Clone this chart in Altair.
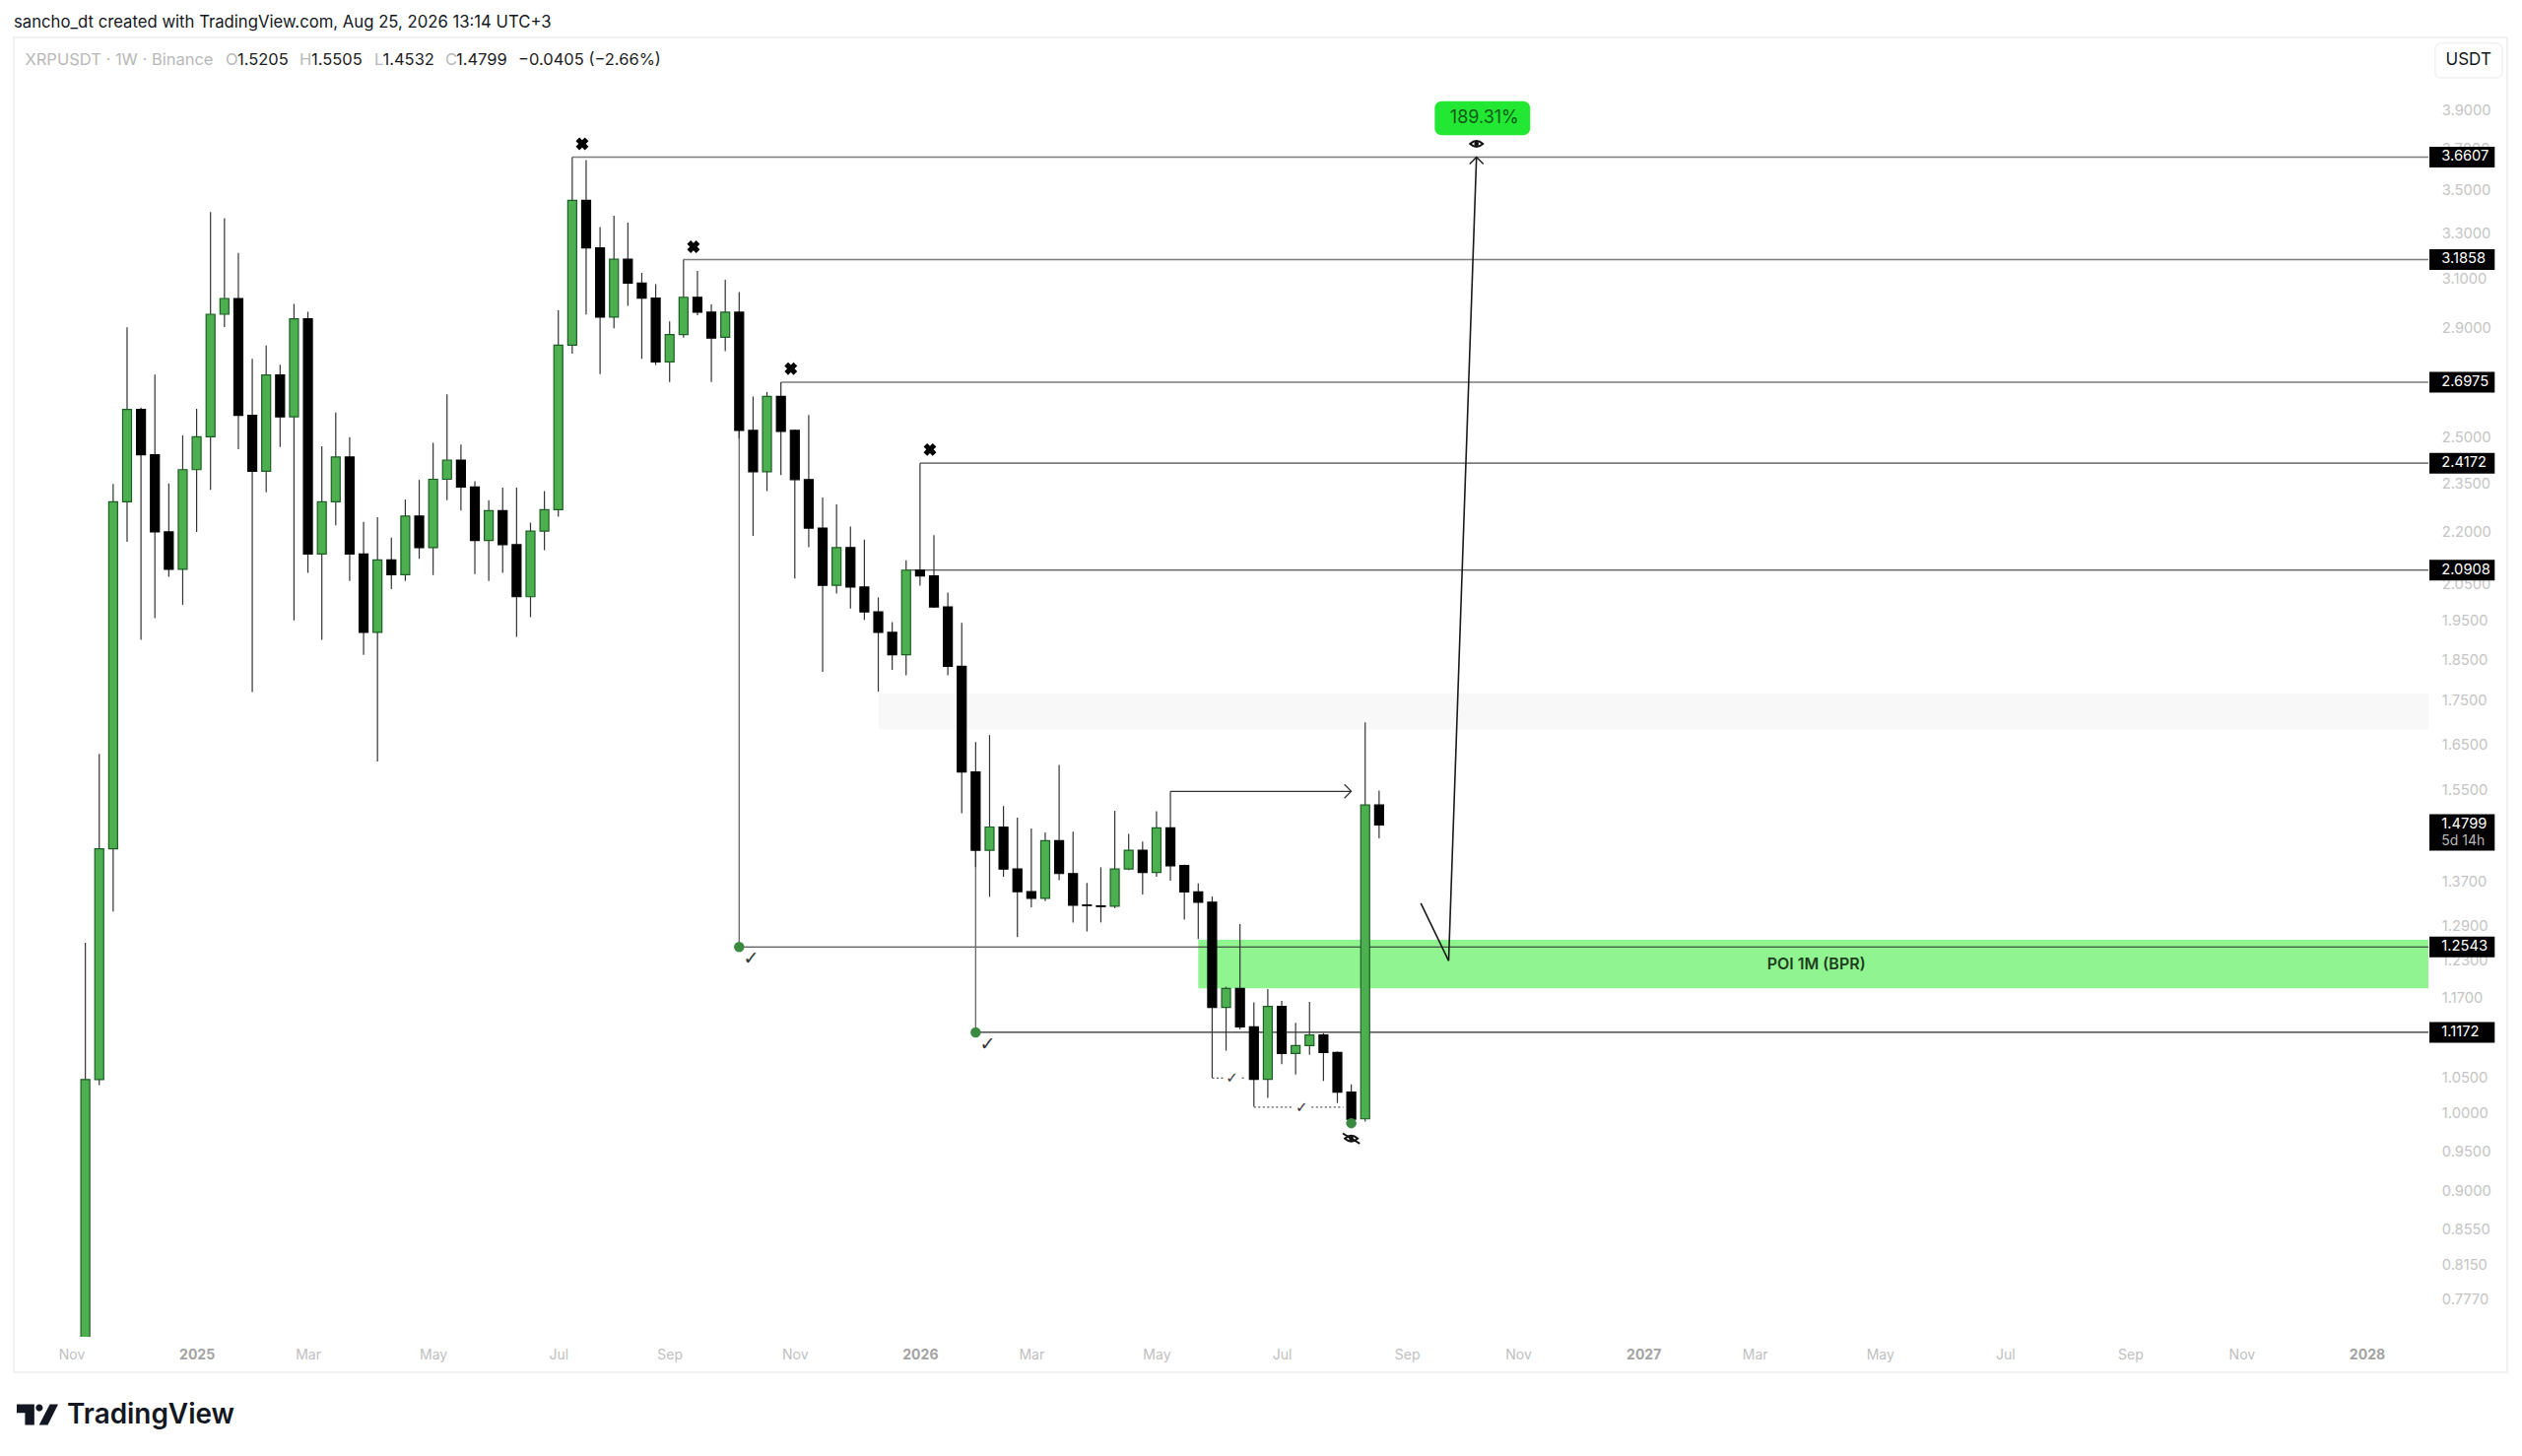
import altair as alt
import pandas as pd

# ---------- candle data (weekly XRPUSDT) ----------
first_week = "2024-11-11"
opens = [
 0.56,1.048,1.433,2.294,2.600,2.445,2.202,2.093,2.396,2.505,
 2.958,3.022,2.579,2.391,2.724,2.574,2.940,2.137,2.294,2.4376,
 2.137,1.9215,2.120,2.078,2.25,2.1555,2.365,2.4274,2.340,2.1764,
 2.2667,2.1642,2.0168,2.2043,2.2692,2.8368,3.4518,3.2365,2.9464,3.187,
 3.0858,3.0238,2.7727,2.8776,3.027,2.9662,2.867,2.9662,2.5268,2.3893,
 2.6461,2.5268,2.3641,2.2136,2.0482,2.1558,2.0434,1.9759,1.9215,1.8641,
 2.0908,2.0743,1.9891,1.8352,1.5904,1.4301,1.4759,1.394,1.3521,1.3399,
 1.4486,1.3856,1.3277,1.3262,1.3256,1.394,1.4301,1.3875,1.4743,1.4007,
 1.3514,1.3328,1.1557,1.1858,1.1254,1.0482,1.1572,1.0857,1.0974,1.1131,
 1.0871,1.0301,0.9935,1.5205]
highs = [
 1.2615,1.630,2.350,2.906,2.606,2.726,2.352,2.510,2.602,3.398,
 3.370,3.215,2.785,2.835,2.7625,3.000,2.968,2.4735,2.589,2.5037,
 2.232,2.2466,2.185,2.301,2.363,2.4847,2.654,2.4794,2.359,2.2987,
 2.338,2.338,2.2298,2.3275,2.9744,3.6607,3.6459,3.329,3.3809,3.349,
 3.1287,3.0816,2.9296,3.1858,3.137,2.9978,3.0994,3.0485,2.6461,2.6624,
 2.6975,2.53,2.5808,2.3074,2.2860,2.2179,2.1790,2.0149,1.9487,2.1191,
 2.4172,2.1925,2.0284,1.9464,1.6563,1.6718,1.5183,1.4949,1.4731,1.4649,
 1.6056,1.4663,1.3681,1.3974,1.5087,1.462,1.4472,1.5075,1.549,1.4025,
 1.3674,1.3432,1.1884,1.2939,1.1637,1.1847,1.1658,1.1317,1.1642,1.1161,
 1.0885,1.0412,1.7008,1.5505]
lows = [
 0.53,1.040,1.316,2.173,1.902,1.959,2.072,1.995,2.202,2.331,
 2.907,2.4635,1.772,2.3235,2.471,1.953,2.083,1.902,2.222,2.0605,
 1.864,1.613,2.038,2.0605,2.1233,2.077,2.2987,2.2667,2.08,2.0605,
 2.083,1.9096,1.9617,2.148,2.2478,2.8046,2.9576,2.7278,2.902,2.9914,
 2.7845,2.7613,2.6988,2.8656,2.9546,2.6988,2.8133,2.50,2.1902,2.3275,
 2.3782,2.0672,2.1567,1.8217,2.0254,1.9848,1.9545,1.7733,1.8264,1.8128,
 2.0472,1.987,1.8128,1.5037,1.3975,1.3426,1.3796,1.271,1.3236,1.3348,
 1.3732,1.2967,1.2812,1.2967,1.322,1.392,1.3467,1.3796,1.3723,1.3016,
 1.2678,1.0506,1.0897,1.1214,1.0101,1.0223,1.0700,1.0551,1.0837,1.0460,
 1.0150,0.9877,0.9900,1.4532]
closes = [
 1.048,1.433,2.294,2.600,2.445,2.202,2.093,2.396,2.505,2.958,
 3.022,2.579,2.391,2.724,2.574,2.940,2.137,2.294,2.4376,2.137,
 1.9215,2.120,2.078,2.25,2.1555,2.365,2.4274,2.340,2.1764,2.2667,
 2.1642,2.0168,2.2043,2.2692,2.8368,3.4518,3.2365,2.9464,3.187,3.0858,
 3.0238,2.7727,2.8776,3.027,2.9662,2.864,2.9662,2.5268,2.3893,2.6461,
 2.5236,2.3641,2.2136,2.0482,2.1558,2.0434,1.9759,1.9215,1.8641,2.0908,
 2.0743,1.9891,1.8352,1.5904,1.4301,1.4759,1.394,1.3521,1.3399,1.4486,
 1.3856,1.3273,1.3268,1.325,1.394,1.4301,1.3875,1.4743,1.4003,1.3514,
 1.3328,1.1557,1.1858,1.1254,1.0482,1.1572,1.0857,1.0974,1.1131,1.0871,
 1.0301,0.9930,1.5205,1.4799]

# ---------- axis values ----------
x_ticks = ["2024-11-04","2025-01-06","2025-03-03","2025-05-05","2025-07-07","2025-09-01",
           "2025-11-03","2026-01-05","2026-03-02","2026-05-04","2026-07-06","2026-09-07",
           "2026-11-02","2027-01-04","2027-03-01","2027-05-03","2027-07-05","2027-09-06",
           "2027-11-01","2028-01-03"]
y_ticks = [3.9,3.7,3.5,3.3,3.1,2.9,2.5,2.35,2.2,2.05,1.95,1.85,1.75,1.65,1.55,1.37,1.29,
           1.23,1.17,1.05,1.0,0.95,0.9,0.855,0.815,0.777]

# ---------- annotations ----------
upper_level_starts = ["2025-07-14","2025-09-08","2025-10-27","2026-01-05"]
upper_levels = [3.6607,3.1858,2.6975,2.4172]
lower_level_starts = ["2025-12-29","2025-10-06","2026-02-02"]
lower_levels = [2.0908,1.2543,1.1172]
x_mark_dates = ["2025-07-19","2025-09-13","2025-11-01","2026-01-10"]
x_mark_prices = [3.7274,3.2413,2.7479,2.4622]
tag_prices = [3.6607,3.1858,2.6975,2.4172,2.0908,1.2543,1.1172]
last_price = 1.4799
dot_dates = ["2025-10-06","2026-02-02","2026-08-10"]
dot_prices = [1.2543,1.1172,0.9877]
check_dates = ["2025-10-12","2026-02-08","2026-06-11","2026-07-16"]
check_prices = [1.2348,1.0993,1.0501,1.0093]
check_sizes = [19,19,15,15]
dotted_from = ["2026-06-01","2026-06-16","2026-06-22","2026-07-21"]
dotted_to = ["2026-06-07","2026-06-18","2026-07-12","2026-08-06"]
dotted_price = [1.0501,1.0501,1.0093,1.0093]
path_dates = ["2026-09-14","2026-09-28","2026-10-12"]
path_prices = [1.331,1.231,3.6607]

X_START, X_END = "2024-10-06", "2028-02-03"
xscale = alt.Scale(type="utc", domain=[X_START, X_END], padding=0)
yscale = alt.Scale(type="log", domain=[0.7393, 4.3056], nice=False, zero=False)
FONT = "Inter"
PX0, PY0 = 14, 38      # page position of the plot origin

x_axis = alt.Axis(
    values=x_ticks, grid=False, domain=False, ticks=False, labelPadding=11,
    labelFontSize=14, labelFont=FONT, labelOverlap=False, labelBound=False, labelFlush=False,
    labelColor={"condition": {"test": "utcmonth(datum.value)==0", "value": "#a3a3a3"}, "value": "#c0c0c0"},
    labelFontWeight={"condition": {"test": "utcmonth(datum.value)==0", "value": "bold"}, "value": "normal"},
    labelExpr="utcmonth(datum.value)==0 ? utcFormat(datum.value,'%Y') : utcFormat(datum.value,'%b')")
y_axis = alt.Axis(
    orient="right", values=y_ticks, format=".4f", grid=False, domain=False, ticks=False,
    labelPadding=13.3, labelAlign="left", labelFontSize=14.7, labelFont=FONT,
    labelColor="#c4c4c4", labelOverlap=False, labelBound=False, labelFlush=False)


def X(f="date"):
    return alt.X(f"{f}:T", scale=xscale, axis=x_axis, title=None)


def Y(f="price"):
    return alt.Y(f"{f}:Q", scale=yscale, axis=y_axis, title=None)


def text(t, px, py, size, color, weight="normal", align="left"):
    return alt.Chart(alt.Data(values=[{"a": 1}])).mark_text(
        text=t, font=FONT, fontSize=size, color=color, fontWeight=weight,
        align=align, baseline="middle"
    ).encode(x=alt.value(px - PX0), y=alt.value(py - PY0))


bars = pd.DataFrame({"open": opens, "high": highs, "low": lows, "close": closes})
bars["date"] = pd.date_range(first_week, periods=len(bars), freq="7D").strftime("%Y-%m-%d")
up_bars = bars[bars["close"] > bars["open"]]
down_bars = bars[bars["close"] <= bars["open"]]

# frame
frame = alt.Chart(alt.Data(values=[{"a": 1}])).mark_rect(
    fill="transparent", stroke="#f2f2f2", strokeWidth=2
).encode(x=alt.value(0), x2=alt.value(2531), y=alt.value(0), y2=alt.value(1355))

# zones
poi = pd.DataFrame({"date": ["2026-05-25"], "end": [X_END], "top": [1.2666], "bottom": [1.1858]})
fvg = pd.DataFrame({"date": ["2025-12-15"], "end": [X_END], "top": [1.7688], "bottom": [1.6843]})
poi_layer = alt.Chart(poi).mark_rect(color="#90f590").encode(x=X(), x2="end:T", y=Y("top"), y2="bottom:Q")
fvg_layer = alt.Chart(fvg).mark_rect(color="#f8f8f8").encode(x=X(), x2="end:T", y=Y("top"), y2="bottom:Q")

# level lines
up_df = pd.DataFrame({"date": upper_level_starts, "price": upper_levels, "end": X_END})
lo_df = pd.DataFrame({"date": lower_level_starts, "price": lower_levels, "end": X_END})
up_lines = alt.Chart(up_df).mark_rule(color="#7d7d7d", strokeWidth=1.6).encode(x=X(), x2="end:T", y=Y())
lo_lines = alt.Chart(lo_df).mark_rule(color="#2a2a2a", strokeWidth=1.2).encode(x=X(), x2="end:T", y=Y())
drop_df = pd.DataFrame({"date": ["2025-10-06", "2026-02-02"], "price": [2.5268, 1.4301], "p2": [1.2543, 1.1172]})
drops = alt.Chart(drop_df).mark_rule(color="#6f6f6f", strokeWidth=1.4).encode(x=X(), y=Y(), y2="p2:Q")

# candles
wicks = alt.Chart(bars).mark_rule(color="#333333", strokeWidth=1.2, clip=True).encode(
    x=X(), y=Y("high"), y2="low:Q")
bodies_up = alt.Chart(up_bars).mark_bar(size=9, strokeWidth=1.2, clip=True, color="#4caf50", stroke="#1e5e24").encode(
    x=X(), y=Y("open"), y2="close:Q")
bodies_down = alt.Chart(down_bars).mark_bar(size=9, strokeWidth=1.2, clip=True, color="#000000", stroke="#000000").encode(
    x=X(), y=Y("open"), y2="close:Q")

# arrow from the May candle to the spike
reach = pd.DataFrame({"date": ["2026-05-11"], "end": ["2026-08-10"], "price": [1.549]})
reach_line = alt.Chart(reach).mark_rule(color="#333333", strokeWidth=1.2).encode(x=X(), x2="end:T", y=Y())
reach_head = alt.Chart(reach).mark_point(
    shape="M-1 -1 L0 0 L-1 1", size=196, filled=False, color="#333333", strokeWidth=1.2, opacity=1
).encode(x=X("end"), y=Y())

# dotted sweeps
dots_df = pd.DataFrame({"date": dotted_from, "end": dotted_to, "price": dotted_price})
dotted = alt.Chart(dots_df).mark_rule(color="#555555", strokeWidth=1.2, strokeDash=[2, 2.5]).encode(
    x=X(), x2="end:T", y=Y())

# forecast path
path_df = pd.DataFrame({"date": path_dates, "price": path_prices, "o": [0, 1, 2]})
path = alt.Chart(path_df).mark_line(color="#1a1a1a", strokeWidth=1.6).encode(x=X(), y=Y(), order="o:Q")
tip = alt.Chart(path_df.iloc[[2]]).mark_point(
    shape="M-1 1 L0 0 L1 1", size=196, filled=False, color="#1a1a1a", strokeWidth=1.4, opacity=1
).encode(x=X(), y=Y())

# marks on the swings
xm_df = pd.DataFrame({"date": x_mark_dates, "price": x_mark_prices})
xmarks = alt.Chart(xm_df).mark_point(shape="cross", angle=45, filled=True, size=170, color="#000000", opacity=1).encode(
    x=X(), y=Y())
dot_df = pd.DataFrame({"date": dot_dates, "price": dot_prices})
dots = alt.Chart(dot_df).mark_point(shape="circle", filled=True, size=110, color="#3a8a3f", opacity=1).encode(
    x=X(), y=Y())
ck_df = pd.DataFrame({"date": check_dates, "price": check_prices, "s": check_sizes})
checks = alt.Chart(ck_df).mark_text(text="✓", font="DejaVu Sans", color="#333333", baseline="middle").encode(
    x=X(), y=Y(), size=alt.Size("s:Q", scale=None, legend=None))

# eyes
eye_df = pd.DataFrame({"date": ["2026-10-12", "2026-08-10"], "price": [3.7274, 0.9674]})
eyes = alt.Chart(eye_df).mark_point(shape="M-1 0 Q0 -0.9 1 0 Q0 0.9 -1 0 Z", size=169, filled=False,
                                    color="#111111", strokeWidth=2, opacity=1).encode(x=X(), y=Y())
pupils = alt.Chart(eye_df).mark_point(shape="circle", size=22, filled=True, color="#111111", opacity=1).encode(
    x=X(), y=Y())
slash = alt.Chart(eye_df.iloc[[1]]).mark_point(shape="M-1 -0.6 L1 0.6", size=300, filled=False,
                                               color="#111111", strokeWidth=1.8, opacity=1).encode(x=X(), y=Y())

# target badge
badge_df = pd.DataFrame({"date": ["2026-09-21"], "end": ["2026-11-08"], "top": [3.949], "bottom": [3.771]})
badge = alt.Chart(badge_df).mark_rect(color="#22e834", cornerRadius=7).encode(
    x=X(), x2="end:T", y=Y("top"), y2="bottom:Q")
badge_text = alt.Chart(pd.DataFrame({"date": ["2026-10-16"], "price": [3.859], "t": ["189.31%"]})).mark_text(
    font=FONT, fontSize=18, color="#0b5a17", align="center", baseline="middle"
).encode(x=X(), y=Y(), text="t:N")

# zone label
poi_text = alt.Chart(pd.DataFrame({"date": ["2027-04-01"], "price": [1.2252], "t": ["POI 1M (BPR)"]})).mark_text(
    font=FONT, fontSize=16, fontWeight=600, color="#1f3d1f", align="center", baseline="middle"
).encode(x=X(), y=Y(), text="t:N")

# price tags
tags = pd.DataFrame({"price": tag_prices})
tags["t"] = tags["price"].map(lambda v: f"{v:.4f}")
tag_bg = alt.Chart(tags).mark_rule(color="#000000", strokeWidth=21).encode(
    x=alt.value(2452), x2=alt.value(2518.3), y=Y())
tag_tx = alt.Chart(tags).mark_text(font=FONT, fontSize=14.7, color="#ffffff", align="left", baseline="middle").encode(
    x=alt.value(2464.3), y=Y(), text="t:N")
last = pd.DataFrame({"price": [last_price], "t": ["1.4799"], "c": ["5d 14h"]})
last_bg = alt.Chart(last).mark_rule(color="#000000", strokeWidth=37).encode(
    x=alt.value(2452), x2=alt.value(2518.3), y=Y(), yOffset=alt.value(7.5))
last_t1 = alt.Chart(last).mark_text(font=FONT, fontSize=14.7, color="#ffffff", align="left", baseline="middle").encode(
    x=alt.value(2464.3), y=Y(), text="t:N")
last_t2 = alt.Chart(last).mark_text(font=FONT, fontSize=14, color="#b8b8b8", align="left", baseline="middle").encode(
    x=alt.value(2464.3), y=Y(), yOffset=alt.value(17), text="c:N")

# USDT button
usdt_box = alt.Chart(alt.Data(values=[{"a": 1}])).mark_rect(
    fill="#ffffff", stroke="#f1f1f1", strokeWidth=1.5, cornerRadius=6
).encode(x=alt.value(2471.7 - PX0), x2=alt.value(2540 - PX0), y=alt.value(43.7 - PY0), y2=alt.value(79 - PY0))

# header
G, K = "#b8b8b8", "#1c1c1c"
H = 16.5
header = [
    text("sancho_dt created with TradingView.com, Aug 25, 2026 13:14 UTC+3", 14, 22.5, 16.7, "#131722"),
    text("XRPUSDT · 1W · Binance", 25.5, 60.5, H, G),
    text("O", 229, 60.5, H, G), text("1.5205", 241, 60.5, H, K),
    text("H", 304, 60.5, H, G), text("1.5505", 316, 60.5, H, K),
    text("L", 380, 60.5, H, G), text("1.4532", 388.5, 60.5, H, K),
    text("C", 452, 60.5, H, G), text("1.4799", 463, 60.5, H, K),
    text("−0.0405 (−2.66%)", 526, 60.5, H, K),
    text("USDT", 2505.7, 61, 17, "#131722", align="center"),
    text("TradingView", 68, 1437, 27.9, "#131722", weight=600),
]

# logo
logo = alt.Chart(alt.Data(values=[{"a": 1}])).mark_point(
    shape="M-1 -0.5 L-0.15 -0.5 L-0.15 0.5 L-0.6 0.5 L-0.6 -0.08 L-1 -0.08 Z "
          "M0.6 -0.5 L1 -0.5 L0.5 0.5 L0.08 0.5 Z "
          "M-0.08 -0.33 A0.17 0.17 0 1 1 0.26 -0.33 A0.17 0.17 0 1 1 -0.08 -0.33 Z",
    size=1764, filled=True, color="#131722", opacity=1
).encode(x=alt.value(38 - PX0), y=alt.value(1436 - PY0))

chart = alt.layer(
    frame, fvg_layer, poi_layer, up_lines, lo_lines, drops, dotted, wicks, bodies_up, bodies_down,
    reach_line, reach_head, path, tip, xmarks, dots, checks, eyes, pupils, slash, badge, badge_text, poi_text,
    tag_bg, tag_tx, last_bg, last_t1, last_t2, usdt_box, *header, logo
).properties(
    width=2451, height=1319,
    autosize=alt.AutoSizeParams(type="none"),
    padding={"left": 6, "top": 30, "right": 87, "bottom": 103},
    background="#ffffff",
).configure_view(strokeWidth=0)

chart.save("out.html", embed_options={"renderer": "svg", "actions": False})
